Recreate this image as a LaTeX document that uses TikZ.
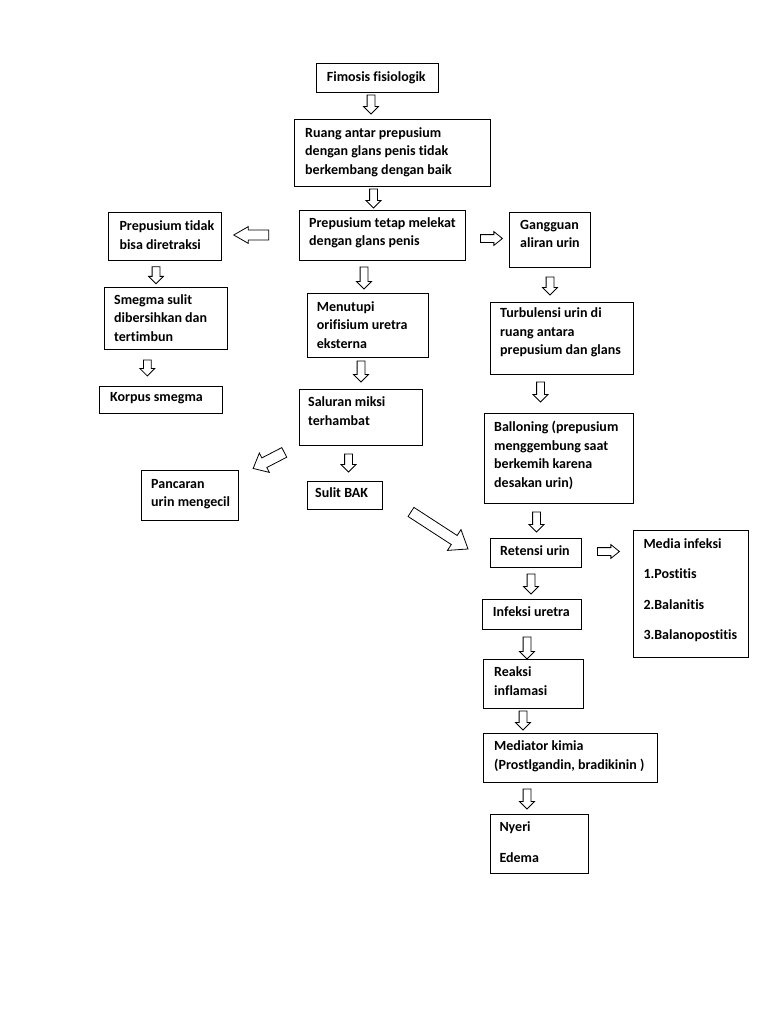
\documentclass[tikz,border=0pt]{standalone}
\usepackage{fontspec}
\setmainfont{Carlito}[Ligatures=NoCommon]
\usetikzlibrary{shapes.arrows}
\newcommand\firststrut{\rule{0pt}{12pt}}
\tikzset{
  box/.style={draw, line width=1pt, anchor=north west, inner sep=0pt},
  txt/.style={anchor=north west, align=left, inner sep=0pt,
    font=\bfseries\fontsize{14}{18.4}\selectfont},
  barrow/.style n args={4}{draw, line width=0.8pt, fill=white, single arrow,
    minimum height=#1, minimum width=0pt, inner xsep=0pt, inner ysep=#2,
    single arrow head extend=#3,
    single arrow tip angle=#4, single arrow head indent=0pt,
    anchor=center},
  darrow/.style={barrow={#1}{3.5pt}{3.5pt}{90}, rotate=-90}
}
\begin{document}
\begin{tikzpicture}[x=1pt,y=-1pt]
\useasboundingbox (0,0) rectangle (768,1024);
% boxes
\node[box, minimum width=122, minimum height=29] (fim) at (316,63) {};
\node[box, minimum width=196, minimum height=67] (ruang) at (294,119) {};
\node[box, minimum width=166, minimum height=50] (tetap) at (299,210) {};
\node[box, minimum width=113, minimum height=48] (tidak) at (108,212) {};
\node[box, minimum width=81, minimum height=55] (gang) at (509,212) {};
\node[box, minimum width=123, minimum height=62] (smeg) at (104,287) {};
\node[box, minimum width=123, minimum height=27] (korp) at (99,386) {};
\node[box, minimum width=121, minimum height=64] (menu) at (307,293) {};
\node[box, minimum width=143, minimum height=72] (turb) at (490,302) {};
\node[box, minimum width=123, minimum height=56] (salu) at (299,389) {};
\node[box, minimum width=149, minimum height=90] (ball) at (484,413) {};
\node[box, minimum width=97, minimum height=50] (panc) at (141,470) {};
\node[box, minimum width=75, minimum height=28] (sulit) at (307,481) {};
\node[box, minimum width=91, minimum height=29] (ret) at (490,538) {};
\node[box, minimum width=115, minimum height=127] (media) at (633,530) {};
\node[box, minimum width=99, minimum height=30] (infu) at (482,599) {};
\node[box, minimum width=100, minimum height=49] (reak) at (483,659) {};
\node[box, minimum width=174, minimum height=49] (medi) at (483,733) {};
\node[box, minimum width=98, minimum height=59] (nyeri) at (490,814) {};
% texts
\node[txt] (fim-t) at (326.7,69.7) {\firststrut Fimosis fisiologik};
\node[txt] (ruang-t) at (305,125.3) {\firststrut Ruang antar prepusium\\dengan glans penis tidak\\berkembang dengan baik};
\node[txt] (tetap-t) at (309,215.3) {\firststrut Prepusium tetap melekat\\dengan glans penis};
\node[txt] (tidak-t) at (119.3,218.5) {\firststrut Prepusium tidak\\bisa diretraksi};
\node[txt] (gang-t) at (520,217.3) {\firststrut Gangguan\\aliran urin};
\node[txt] (smeg-t) at (114,292) {\firststrut Smegma sulit\\dibersihkan dan\\tertimbun};
\node[txt] (korp-t) at (110,389.7) {\firststrut Korpus smegma};
\node[txt] (menu-t) at (316.7,299) {\firststrut Menutupi\\orifisium uretra\\eksterna};
\node[txt] (turb-t) at (500,305.7) {\firststrut Turbulensi urin di\\ruang antara\\prepusium dan glans};
\node[txt] (salu-t) at (308,394.7) {\firststrut Saluran miksi\\terhambat};
\node[txt] (ball-t) at (494,419.7) {\firststrut Balloning (prepusium\\menggembung saat\\berkemih karena\\desakan urin)};
\node[txt] (panc-t) at (151,476) {\firststrut Pancaran\\urin mengecil};
\node[txt] (sulit-t) at (315,485.7) {\firststrut Sulit BAK};
\node[txt] (ret-t) at (500,543) {\firststrut Retensi urin};
\node[txt] (media-t) at (643.3,536.3) {\firststrut Media infeksi\\[12pt]1.Postitis\\[12pt]2.Balanitis\\[12pt]3.Balanopostitis};
\node[txt] (infu-t) at (492.7,604.7) {\firststrut Infeksi uretra};
\node[txt] (reak-t) at (494,664.7) {\firststrut Reaksi\\inflamasi};
\node[txt] (medi-t) at (494,738.7) {\firststrut Mediator kimia\\(Prostlgandin, bradikinin )};
\node[txt] (nyeri-t) at (499.3,819.7) {\firststrut Nyeri\\[12pt]Edema};
% block arrows
\node[darrow=19pt] (a1) at (371,102.5) {};
\node[darrow=19pt] (a2) at (373.5,196.5) {};
\node[darrow=17pt] (a5) at (156,273.3) {};
\node[darrow=16pt] (a6) at (147.3,366) {};
\node[darrow=22pt] (a7) at (364,276) {};
\node[darrow=21pt] (a8) at (361,369.5) {};
\node[darrow=18pt] (a10) at (348.5,461) {};
\node[darrow=18pt] (a12) at (550,284) {};
\node[darrow=20pt] (a13) at (540.5,390) {};
\node[darrow=20pt] (a14) at (536.5,520) {};
\node[darrow=20pt] (a16) at (531,582) {};
\node[darrow=22pt] (a17) at (527,646) {};
\node[darrow=19pt] (a18) at (523,718.5) {};
\node[darrow=20pt] (a19) at (527,797) {};
\node[barrow={35pt}{4.5pt}{3.5pt}{60}, rotate=180] (a3) at (255.5,235) {};
\node[barrow={22pt}{3.5pt}{3pt}{78}] (a4) at (489,238.5) {};
\node[barrow={22pt}{3.5pt}{3pt}{78}] (a15) at (606,551.5) {};
\node[barrow={35pt}{5pt}{5.5pt}{82}, rotate=207.3] (a9) at (271.5,459) {};
\node[barrow={68pt}{5pt}{7pt}{74}, rotate=-33] (a11) at (436.5,528.5) {};
\end{tikzpicture}
\end{document}
